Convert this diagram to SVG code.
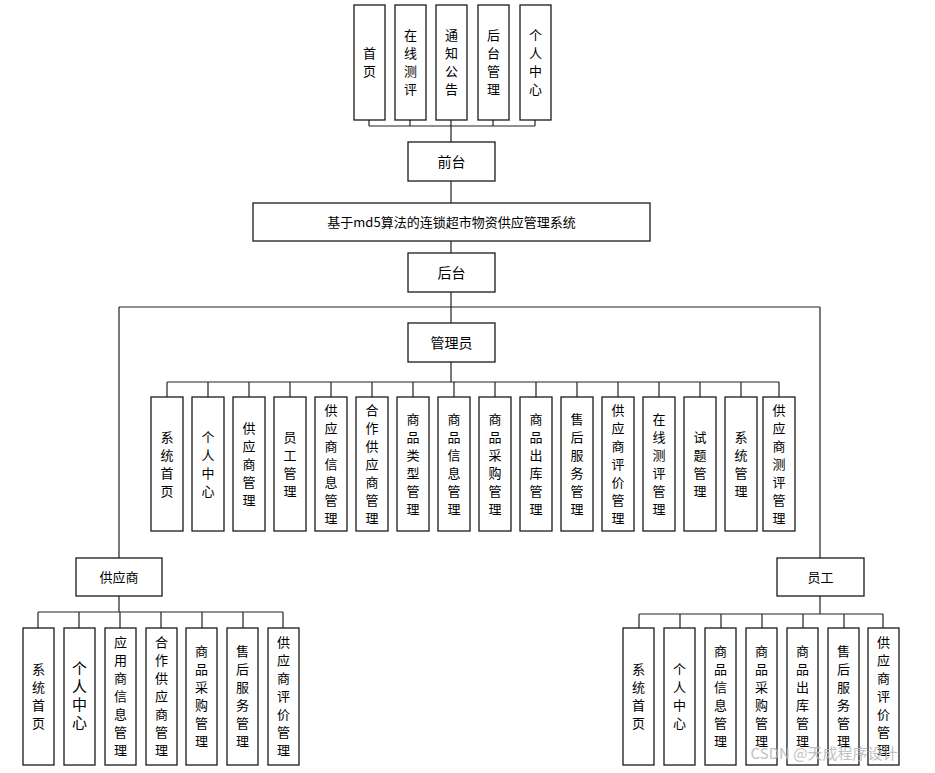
<svg xmlns="http://www.w3.org/2000/svg" width="935" height="773" viewBox="0 0 935 773">
<style>
rect{fill:#fff;stroke:#1a1a1a;stroke-width:1.3}
text{font-family:"Noto Sans CJK SC","Liberation Sans",sans-serif;font-size:13px;fill:#000;text-anchor:middle}
.t{font-size:14px}
#connectors path{fill:none;stroke:#222;stroke-width:1.2}
</style>
<g id="connectors">
<path d="M369 120V126M410 120V126M451 120V126M493 120V126M535 120V126M369 126H535M451 126V142"/>
<path d="M451 181V203M451 241V253M451 292V323M119 307H820M119 307V558M820 307V558"/>
<path d="M451 362V382M167 382H779M167 382V397M208 382V397M249 382V397M290 382V397M331 382V397M372 382V397M413 382V397M454 382V397M495 382V397M536 382V397M577 382V397M618 382V397M659 382V397M700 382V397M741 382V397M779 382V397"/>
<path d="M119 596V612M38 612H283M38 612V628M79 612V628M120 612V628M161 612V628M202 612V628M243 612V628M283 612V628"/>
<path d="M820 596V614M639 614H883M639 614V628M680 614V628M721 614V628M762 614V628M803 614V628M844 614V628M883 614V628"/>
</g>
<g id="top">
<g id="n-shouye"><rect x="354" y="5" width="31" height="115"/><text x="369.5" y="58"><tspan x="369.5">首</tspan><tspan x="369.5" dy="18">页</tspan></text></g>
<g id="n-zaixian"><rect x="395" y="5" width="31" height="115"/><text x="410.5" y="40"><tspan x="410.5">在</tspan><tspan x="410.5" dy="18">线</tspan><tspan x="410.5" dy="18">测</tspan><tspan x="410.5" dy="18">评</tspan></text></g>
<g id="n-tongzhi"><rect x="436" y="5" width="31" height="115"/><text x="451.5" y="40"><tspan x="451.5">通</tspan><tspan x="451.5" dy="18">知</tspan><tspan x="451.5" dy="18">公</tspan><tspan x="451.5" dy="18">告</tspan></text></g>
<g id="n-houtaiguanli"><rect x="478" y="5" width="31" height="115"/><text x="493.5" y="40"><tspan x="493.5">后</tspan><tspan x="493.5" dy="18">台</tspan><tspan x="493.5" dy="18">管</tspan><tspan x="493.5" dy="18">理</tspan></text></g>
<g id="n-geren"><rect x="520" y="5" width="31" height="115"/><text x="535.5" y="40"><tspan x="535.5">个</tspan><tspan x="535.5" dy="18">人</tspan><tspan x="535.5" dy="18">中</tspan><tspan x="535.5" dy="18">心</tspan></text></g>
</g>
<g id="n-qiantai"><rect x="408" y="142" width="87" height="39"/><text class="t" x="451.5" y="167">前台</text></g>
<g id="n-title"><rect x="253" y="203" width="397" height="38"/><text x="451.5" y="227">基于md5算法的连锁超市物资供应管理系统</text></g>
<g id="n-houtai"><rect x="408" y="253" width="87" height="39"/><text class="t" x="451.5" y="278">后台</text></g>
<g id="n-admin"><rect x="408" y="323" width="87" height="39"/><text class="t" x="451.5" y="348">管理员</text></g>
<g id="admin-children">
<g id="a1"><rect x="151" y="397" width="32" height="134"/><text y="442"><tspan x="167">系</tspan><tspan x="167" dy="18">统</tspan><tspan x="167" dy="18">首</tspan><tspan x="167" dy="18">页</tspan></text></g>
<g id="a2"><rect x="192" y="397" width="32" height="134"/><text y="442"><tspan x="208">个</tspan><tspan x="208" dy="18">人</tspan><tspan x="208" dy="18">中</tspan><tspan x="208" dy="18">心</tspan></text></g>
<g id="a3"><rect x="233" y="397" width="32" height="134"/><text y="433"><tspan x="249">供</tspan><tspan x="249" dy="18">应</tspan><tspan x="249" dy="18">商</tspan><tspan x="249" dy="18">管</tspan><tspan x="249" dy="18">理</tspan></text></g>
<g id="a4"><rect x="274" y="397" width="32" height="134"/><text y="442"><tspan x="290">员</tspan><tspan x="290" dy="18">工</tspan><tspan x="290" dy="18">管</tspan><tspan x="290" dy="18">理</tspan></text></g>
<g id="a5"><rect x="315" y="397" width="32" height="134"/><text y="415"><tspan x="331">供</tspan><tspan x="331" dy="18">应</tspan><tspan x="331" dy="18">商</tspan><tspan x="331" dy="18">信</tspan><tspan x="331" dy="18">息</tspan><tspan x="331" dy="18">管</tspan><tspan x="331" dy="18">理</tspan></text></g>
<g id="a6"><rect x="356" y="397" width="32" height="134"/><text y="415"><tspan x="372">合</tspan><tspan x="372" dy="18">作</tspan><tspan x="372" dy="18">供</tspan><tspan x="372" dy="18">应</tspan><tspan x="372" dy="18">商</tspan><tspan x="372" dy="18">管</tspan><tspan x="372" dy="18">理</tspan></text></g>
<g id="a7"><rect x="397" y="397" width="32" height="134"/><text y="424"><tspan x="413">商</tspan><tspan x="413" dy="18">品</tspan><tspan x="413" dy="18">类</tspan><tspan x="413" dy="18">型</tspan><tspan x="413" dy="18">管</tspan><tspan x="413" dy="18">理</tspan></text></g>
<g id="a8"><rect x="438" y="397" width="32" height="134"/><text y="424"><tspan x="454">商</tspan><tspan x="454" dy="18">品</tspan><tspan x="454" dy="18">信</tspan><tspan x="454" dy="18">息</tspan><tspan x="454" dy="18">管</tspan><tspan x="454" dy="18">理</tspan></text></g>
<g id="a9"><rect x="479" y="397" width="32" height="134"/><text y="424"><tspan x="495">商</tspan><tspan x="495" dy="18">品</tspan><tspan x="495" dy="18">采</tspan><tspan x="495" dy="18">购</tspan><tspan x="495" dy="18">管</tspan><tspan x="495" dy="18">理</tspan></text></g>
<g id="a10"><rect x="520" y="397" width="32" height="134"/><text y="424"><tspan x="536">商</tspan><tspan x="536" dy="18">品</tspan><tspan x="536" dy="18">出</tspan><tspan x="536" dy="18">库</tspan><tspan x="536" dy="18">管</tspan><tspan x="536" dy="18">理</tspan></text></g>
<g id="a11"><rect x="561" y="397" width="32" height="134"/><text y="424"><tspan x="577">售</tspan><tspan x="577" dy="18">后</tspan><tspan x="577" dy="18">服</tspan><tspan x="577" dy="18">务</tspan><tspan x="577" dy="18">管</tspan><tspan x="577" dy="18">理</tspan></text></g>
<g id="a12"><rect x="602" y="397" width="32" height="134"/><text y="415"><tspan x="618">供</tspan><tspan x="618" dy="18">应</tspan><tspan x="618" dy="18">商</tspan><tspan x="618" dy="18">评</tspan><tspan x="618" dy="18">价</tspan><tspan x="618" dy="18">管</tspan><tspan x="618" dy="18">理</tspan></text></g>
<g id="a13"><rect x="643" y="397" width="32" height="134"/><text y="424"><tspan x="659">在</tspan><tspan x="659" dy="18">线</tspan><tspan x="659" dy="18">测</tspan><tspan x="659" dy="18">评</tspan><tspan x="659" dy="18">管</tspan><tspan x="659" dy="18">理</tspan></text></g>
<g id="a14"><rect x="684" y="397" width="32" height="134"/><text y="442"><tspan x="700">试</tspan><tspan x="700" dy="18">题</tspan><tspan x="700" dy="18">管</tspan><tspan x="700" dy="18">理</tspan></text></g>
<g id="a15"><rect x="725" y="397" width="32" height="134"/><text y="442"><tspan x="741">系</tspan><tspan x="741" dy="18">统</tspan><tspan x="741" dy="18">管</tspan><tspan x="741" dy="18">理</tspan></text></g>
<g id="a16"><rect x="763" y="397" width="32" height="134"/><text y="415"><tspan x="779">供</tspan><tspan x="779" dy="18">应</tspan><tspan x="779" dy="18">商</tspan><tspan x="779" dy="18">测</tspan><tspan x="779" dy="18">评</tspan><tspan x="779" dy="18">管</tspan><tspan x="779" dy="18">理</tspan></text></g>
</g>
<g id="n-supplier"><rect x="76" y="558" width="86" height="38"/><text x="119" y="582">供应商</text></g>
<g id="supplier-children">
<g id="s1"><rect x="23" y="628" width="31" height="137"/><text y="674"><tspan x="38.5">系</tspan><tspan x="38.5" dy="18">统</tspan><tspan x="38.5" dy="18">首</tspan><tspan x="38.5" dy="18">页</tspan></text></g>
<g id="s2"><rect x="64" y="628" width="31" height="137"/><text y="674" style="font-size:15px"><tspan x="79.5">个</tspan><tspan x="79.5" dy="18">人</tspan><tspan x="79.5" dy="18">中</tspan><tspan x="79.5" dy="18">心</tspan></text></g>
<g id="s3"><rect x="105" y="628" width="31" height="137"/><text y="647"><tspan x="120.5">应</tspan><tspan x="120.5" dy="18">用</tspan><tspan x="120.5" dy="18">商</tspan><tspan x="120.5" dy="18">信</tspan><tspan x="120.5" dy="18">息</tspan><tspan x="120.5" dy="18">管</tspan><tspan x="120.5" dy="18">理</tspan></text></g>
<g id="s4"><rect x="146" y="628" width="31" height="137"/><text y="647"><tspan x="161.5">合</tspan><tspan x="161.5" dy="18">作</tspan><tspan x="161.5" dy="18">供</tspan><tspan x="161.5" dy="18">应</tspan><tspan x="161.5" dy="18">商</tspan><tspan x="161.5" dy="18">管</tspan><tspan x="161.5" dy="18">理</tspan></text></g>
<g id="s5"><rect x="186" y="628" width="31" height="137"/><text y="656"><tspan x="201.5">商</tspan><tspan x="201.5" dy="18">品</tspan><tspan x="201.5" dy="18">采</tspan><tspan x="201.5" dy="18">购</tspan><tspan x="201.5" dy="18">管</tspan><tspan x="201.5" dy="18">理</tspan></text></g>
<g id="s6"><rect x="227" y="628" width="31" height="137"/><text y="656"><tspan x="242.5">售</tspan><tspan x="242.5" dy="18">后</tspan><tspan x="242.5" dy="18">服</tspan><tspan x="242.5" dy="18">务</tspan><tspan x="242.5" dy="18">管</tspan><tspan x="242.5" dy="18">理</tspan></text></g>
<g id="s7"><rect x="268" y="628" width="31" height="137"/><text y="647"><tspan x="283.5">供</tspan><tspan x="283.5" dy="18">应</tspan><tspan x="283.5" dy="18">商</tspan><tspan x="283.5" dy="18">评</tspan><tspan x="283.5" dy="18">价</tspan><tspan x="283.5" dy="18">管</tspan><tspan x="283.5" dy="18">理</tspan></text></g>
</g>
<g id="n-staff"><rect x="777" y="558" width="87" height="38"/><text x="820.5" y="582">员工</text></g>
<g id="staff-children">
<g id="e1"><rect x="623" y="628" width="31" height="137"/><text y="674"><tspan x="638.5">系</tspan><tspan x="638.5" dy="18">统</tspan><tspan x="638.5" dy="18">首</tspan><tspan x="638.5" dy="18">页</tspan></text></g>
<g id="e2"><rect x="664" y="628" width="31" height="137"/><text y="674"><tspan x="679.5">个</tspan><tspan x="679.5" dy="18">人</tspan><tspan x="679.5" dy="18">中</tspan><tspan x="679.5" dy="18">心</tspan></text></g>
<g id="e3"><rect x="705" y="628" width="31" height="137"/><text y="656"><tspan x="720.5">商</tspan><tspan x="720.5" dy="18">品</tspan><tspan x="720.5" dy="18">信</tspan><tspan x="720.5" dy="18">息</tspan><tspan x="720.5" dy="18">管</tspan><tspan x="720.5" dy="18">理</tspan></text></g>
<g id="e4"><rect x="746" y="628" width="31" height="137"/><text y="656"><tspan x="761.5">商</tspan><tspan x="761.5" dy="18">品</tspan><tspan x="761.5" dy="18">采</tspan><tspan x="761.5" dy="18">购</tspan><tspan x="761.5" dy="18">管</tspan><tspan x="761.5" dy="18">理</tspan></text></g>
<g id="e5"><rect x="787" y="628" width="31" height="137"/><text y="656"><tspan x="802.5">商</tspan><tspan x="802.5" dy="18">品</tspan><tspan x="802.5" dy="18">出</tspan><tspan x="802.5" dy="18">库</tspan><tspan x="802.5" dy="18">管</tspan><tspan x="802.5" dy="18">理</tspan></text></g>
<g id="e6"><rect x="828" y="628" width="31" height="137"/><text y="656"><tspan x="843.5">售</tspan><tspan x="843.5" dy="18">后</tspan><tspan x="843.5" dy="18">服</tspan><tspan x="843.5" dy="18">务</tspan><tspan x="843.5" dy="18">管</tspan><tspan x="843.5" dy="18">理</tspan></text></g>
<g id="e7"><rect x="868" y="628" width="31" height="137"/><text y="647"><tspan x="883.5">供</tspan><tspan x="883.5" dy="18">应</tspan><tspan x="883.5" dy="18">商</tspan><tspan x="883.5" dy="18">评</tspan><tspan x="883.5" dy="18">价</tspan><tspan x="883.5" dy="18">管</tspan><tspan x="883.5" dy="18">理</tspan></text></g>
</g>
<text x="824" y="759" style="font-size:15px;fill:#bbb;opacity:0.9">CSDN @天成程序设计</text>
</svg>
